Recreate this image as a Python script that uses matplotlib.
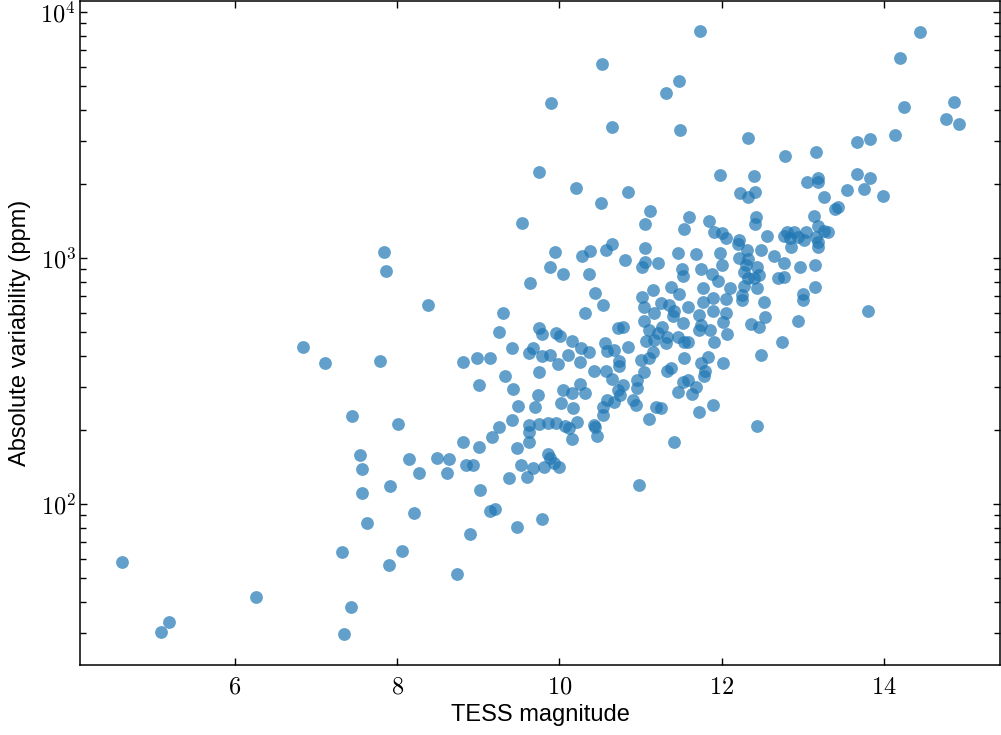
import numpy as np
import matplotlib
matplotlib.use("Agg")
import matplotlib.pyplot as plt
from matplotlib.ticker import FixedLocator, FuncFormatter, LogLocator, NullFormatter

plt.rcParams["mathtext.fontset"] = "cm"

# TESS magnitude of each star
tess_mag = [
    4.61, 5.09, 5.19, 6.26, 6.84, 7.11, 7.32, 7.35, 7.43, 7.44,
    7.54, 7.57, 7.57, 7.63, 7.79, 7.84, 7.86, 7.90, 7.91, 8.01,
    8.06, 8.14, 8.21, 8.27, 8.38, 8.49, 8.62, 8.64, 8.74, 8.81,
    8.81, 8.85, 8.90, 8.93, 8.99, 9.01, 9.01, 9.02,
    10.53, 9.90, 10.65, 11.32, 11.48, 11.49,
    11.73, 12.33, 13.67, 13.83, 14.14, 14.20, 14.25, 14.44, 14.77, 14.86, 14.93,
    9.75, 10.20, 10.85, 10.51, 11.12, 9.54, 11.05, 11.60, 11.54, 9.94,
    10.28, 10.38, 10.57, 10.65, 10.81, 11.05, 11.06, 11.02, 11.21, 11.46,
    9.88, 10.04, 9.64, 10.36, 11.51, 11.52, 10.44, 11.02, 11.15, 11.37, 11.48,
    12.78, 13.16, 11.98, 12.40, 13.05, 13.19, 13.19, 13.67, 13.83, 13.54,
    13.75, 13.99, 12.23, 12.32, 12.41, 13.26, 13.40, 13.43, 13.14, 12.42,
    12.41, 11.85, 11.91, 12.01, 12.05, 12.22, 12.20, 12.56, 12.31, 12.48,
    12.80, 12.89, 12.77, 12.84, 12.94, 13.04, 13.02, 13.19, 13.26, 13.31,
    13.16, 13.19, 13.19, 12.85, 11.68, 11.98, 12.01, 12.21, 12.33, 12.30,
    12.28, 12.65, 12.77, 12.96, 13.15, 11.74, 11.88, 11.95, 12.44, 12.46,
    12.33, 12.40, 12.69, 12.77, 11.77, 12.10, 12.27, 12.44, 12.25, 13.00,
    13.15, 11.89, 12.05,
    9.31, 10.32, 10.54, 9.26, 9.42, 9.75, 9.78, 9.96, 10.01, 10.15,
    9.63, 9.68, 9.79, 9.88, 9.98, 10.10, 10.27, 10.36, 10.25, 10.56,
    10.59, 10.67, 10.85, 10.72, 10.78, 11.04, 11.04, 11.16, 11.25, 11.35,
    11.41, 11.40, 11.59, 11.27, 11.10, 11.21, 11.07, 11.16, 11.33, 11.31,
    11.52, 11.46, 11.53, 11.58, 9.14, 9.75, 10.43, 10.58, 10.65, 10.73,
    10.73, 11.01, 11.10, 11.15, 11.04, 10.96, 10.96, 11.33, 11.37, 11.53,
    11.52, 11.58, 9.33, 9.43, 10.05, 10.15, 10.25, 10.31, 10.72, 10.79,
    10.75, 10.67, 10.59, 10.54, 10.91, 10.95, 11.46, 9.74, 9.70, 9.49,
    10.02, 10.17, 10.54, 11.19, 11.25, 11.11, 11.41, 9.41, 9.26, 9.17,
    9.62, 9.62, 9.63, 9.75, 9.86, 9.96, 10.07, 10.12, 10.22, 10.16,
    10.43, 10.44, 10.46, 9.48, 9.86, 9.89,
    11.77, 11.72, 11.89, 12.05, 12.02, 11.74, 11.72, 11.86, 12.07, 11.90,
    12.25, 12.52, 12.54, 12.36, 12.46, 13.00, 12.94, 13.81, 12.75, 12.49,
    11.83, 11.74, 11.80, 11.78, 12.02, 11.68, 11.64, 11.89, 11.72, 12.43,
    9.53, 9.68, 9.81, 9.93, 10.00, 9.38, 9.60, 9.14, 9.21, 9.78,
    9.48, 10.98,
]

# absolute variability in ppm, same order as tess_mag
variability_ppm = [
    58.1, 30.2, 33.1, 41.9, 434, 374, 63.8, 29.6, 38.1, 228,
    158, 139, 111, 83.7, 381, 1058, 885, 56.5, 118, 211,
    64.4, 152, 91.9, 134, 644, 154, 134, 152, 51.9, 378,
    179, 144, 75.5, 144, 392, 305, 171, 114,
    6150, 4270, 3410, 4690, 5250, 3310,
    8370, 3080, 2960, 3050, 3160, 6500, 4110, 8300, 3670, 4300, 3510,
    2240, 1930, 1850, 1670, 1550, 1390, 1370, 1470, 1310, 1060,
    1020, 1070, 1080, 1140, 982, 1100, 963, 919, 954, 1050,
    919, 861, 791, 861, 902, 845, 721, 694, 741, 762, 714,
    2600, 2700, 2170, 2150, 2040, 2110, 2040, 2190, 2110, 1890,
    1900, 1790, 1840, 1770, 1850, 1770, 1580, 1610, 1480, 1470,
    1370, 1410, 1280, 1260, 1210, 1190, 1140, 1230, 1080, 1080,
    1280, 1280, 1230, 1210, 1220, 1280, 1190, 1350, 1290, 1280,
    1220, 1160, 1110, 1110, 1040, 1050, 937, 1000, 991, 937,
    877, 1020, 954, 919, 937, 902, 861, 806, 919, 853,
    830, 830, 830, 837, 755, 755, 769, 755, 708, 714,
    762, 687, 681,
    597, 597, 644, 500, 431, 519, 491, 496, 482, 460,
    411, 431, 400, 404, 371, 404, 431, 415, 378, 451,
    419, 423, 435, 519, 524, 632, 555, 597, 656, 644,
    610, 581, 632, 524, 509, 496, 460, 465, 477, 451,
    545, 477, 456, 456, 392, 344, 348, 348, 322, 381,
    364, 385, 392, 415, 344, 319, 296, 348, 357, 392,
    313, 319, 331, 293, 290, 282, 308, 282, 290, 305,
    277, 260, 265, 248, 265, 252, 285, 277, 248, 250,
    258, 245, 230, 248, 245, 222, 179, 219, 206, 187,
    209, 196, 179, 211, 213, 213, 208, 204, 215, 184,
    209, 206, 189, 169, 160, 154,
    662, 586, 610, 597, 549, 535, 509, 509, 491, 456,
    675, 662, 575, 540, 524, 675, 555, 610, 456, 404,
    396, 374, 348, 331, 374, 299, 280, 252, 237, 208,
    144, 140, 141, 147, 142, 128, 129, 93.8, 95.5, 86.9,
    80.7, 120,
]

x_ticks = [6, 8, 10, 12, 14]

fig = plt.figure(figsize=(10.01, 7.35), dpi=100)
ax = fig.add_axes([0.0799, 0.0952, 0.919, 0.9035])

ax.scatter(tess_mag, variability_ppm, s=85, color="#1f77b4", alpha=0.7,
           linewidths=0)

ax.set_yscale("log")
ax.set_xlim(4.09, 15.43)
ax.set_ylim(22.2, 11090)

ax.xaxis.set_major_locator(FixedLocator(x_ticks))
ax.xaxis.set_major_formatter(FuncFormatter(lambda v, p: r"$%d$" % v))
ax.yaxis.set_major_locator(LogLocator(base=10))
ax.yaxis.set_major_formatter(FuncFormatter(lambda v, p: r"$10^{%d}$" % round(np.log10(v))))
ax.yaxis.set_minor_locator(LogLocator(base=10, subs=np.arange(2, 10)))
ax.yaxis.set_minor_formatter(NullFormatter())

ax.tick_params(which="both", direction="in", top=True, right=True, labelsize=17.5)
ax.tick_params(which="major", length=5, width=1)
ax.tick_params(which="minor", length=4, width=1)
ax.tick_params(axis="x", pad=7)
ax.tick_params(axis="y", pad=3)
for s in ax.spines.values():
    s.set_linewidth(1.1)

ax.set_xlabel("TESS magnitude", fontsize=17, family="Liberation Sans", labelpad=4)
ax.set_ylabel("Absolute variability (ppm)", fontsize=17, family="Liberation Sans", labelpad=7)

fig.savefig("out.png", dpi=100)
